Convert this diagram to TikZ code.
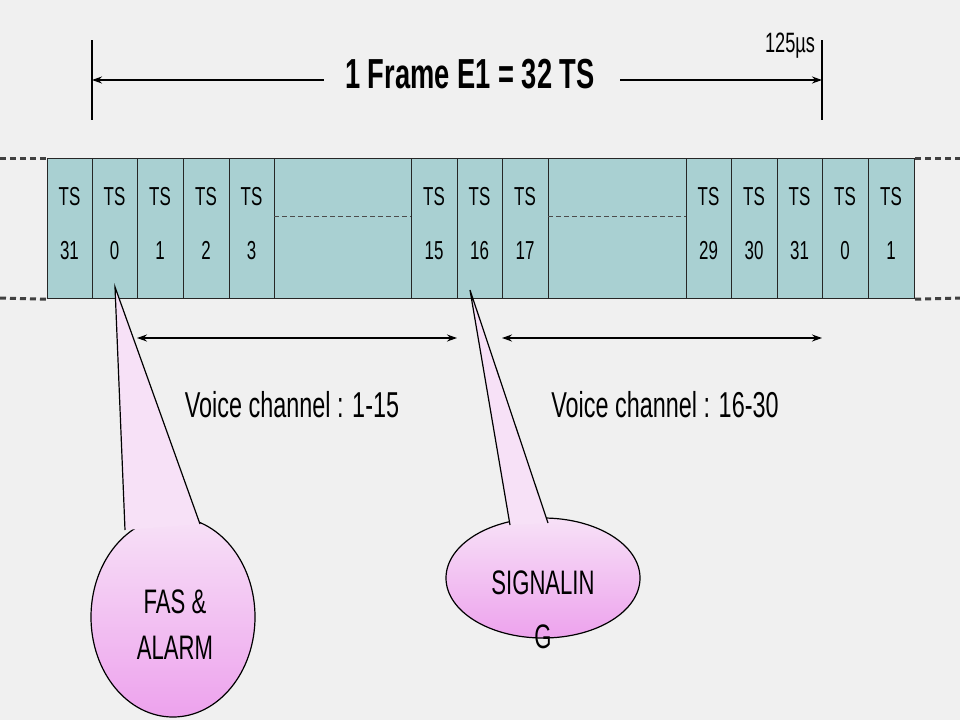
\documentclass[tikz,border=0pt]{standalone}
\usepackage{fontspec}
\setmainfont{Liberation Sans}[FakeStretch=0.65]
\usetikzlibrary{arrows.meta}
\definecolor{cellc}{HTML}{A9D0D2}
\definecolor{pinkc}{HTML}{EBB4EB}
\begin{document}
\begin{tikzpicture}[x=1pt,y=-1pt,
  cell/.style={draw=black!85,line width=1.2pt,fill=cellc,minimum height=140pt,inner sep=0pt,anchor=north west},
  ts/.style={font=\fontsize{26}{28}\selectfont,anchor=base},
  dots/.style={line width=3pt,dash pattern=on 6pt off 4pt,black!75},
  arr/.style={line width=1.3pt,{Stealth[length=10pt,width=7pt]}-{Stealth[length=10pt,width=7pt]}},
  lbl/.style={font=\fontsize{36}{38}\selectfont},
  bub/.style={draw=black,line width=1.2pt,top color=white!60!pinkc,bottom color=pinkc!90!magenta}]
\fill[white!94!black] (0,0) rectangle (960,720);
\useasboundingbox (0,0) rectangle (960,720);
% cells
\foreach \x/\w/\t [count=\i] in {47/45/31,92/45/0,137/46/1,183/46/2,229/45/3,274/137/,411/46/15,457/45/16,502/46/17,548/138/,686/45/29,731/46/30,777/45/31,822/46/0,868/46/1}{
  \node[cell,minimum width=\w pt] (c\i) at (\x,158) {};
  \ifx\t\empty\else
  \node[ts] (t\i) at (\x+\w/2,205) {TS};
  \node[ts] (n\i) at (\x+\w/2,259) {\t};
  \fi
}
\draw[line width=1.5pt,dash pattern=on 5pt off 3pt,black!70] (c6.west) ++(0,-12) -- ++(137,0);
\draw[line width=1.5pt,dash pattern=on 5pt off 3pt,black!70] (c10.west) ++(0,-12) -- ++(138,0);
\coordinate (lt) at (0,158); \coordinate (lb) at (0,298);
\coordinate (rt) at (960,158); \coordinate (rb) at (960,298);
\draw[dots] (lt) -- (c1.north west); \draw[dots] (lb) -- (c1.south west);
\draw[dots] (c15.north east) -- (rt); \draw[dots] (c15.south east) -- (rb);
% top frame arrow
\coordinate (a1) at (92,40); \coordinate (a2) at (92,120);
\coordinate (b1) at (822,40); \coordinate (b2) at (822,120);
\draw[line width=1.3pt] (a1) -- (a2); \draw[line width=1.3pt] (b1) -- (b2);
\node[font=\bfseries\fontsize{42}{44}\selectfont] (title) at (470,74) {1 Frame E1 = 32 TS};
\coordinate (tl) at (92,80); \coordinate (tr) at (822,80);
\draw[line width=1.3pt,-{Stealth[length=10pt,width=7pt]}] (title.west|-tl) ++(-18,0) -- (tl);
\draw[line width=1.3pt,-{Stealth[length=10pt,width=7pt]}] (title.east|-tr) ++(22,0) -- (tr);
\node[font=\fontsize{28}{30}\selectfont] (us) at (790,46) {125µs};
% voice channel arrows
\coordinate (v1) at (137,338); \coordinate (v2) at (457,338);
\coordinate (v3) at (502,338); \coordinate (v4) at (822,338);
\draw[arr] (v1) -- (v2); \draw[arr] (v3) -- (v4);
\node[lbl] (l1) at (292,405) {Voice channel : 1-15};
\node[lbl] (l2) at (665,405) {Voice channel : 16-30};
% FAS callout
\draw[bub] (173,617) ellipse [x radius=82, y radius=100];
\coordinate (p1) at (115,287);
\fill[pinkc!40!white] (p1) -- (200,524) -- (125,530) -- cycle;
\draw[line width=1.2pt] (125,530) -- (p1) -- (200,524);
\node[font=\fontsize{34}{46}\selectfont,align=center] (fas) at (175,625) {FAS \&\\ALARM};
% SIGNALING callout
\draw[bub] (543,578) ellipse [x radius=97, y radius=60];
\coordinate (p2) at (470,290);
\fill[pinkc!40!white] (p2) -- (548,523) -- (510,525) -- cycle;
\draw[line width=1.2pt] (510,525) -- (p2) -- (548,523);
\node[font=\fontsize{34}{54}\selectfont,align=center] (sig) at (543,610) {SIGNALIN\\G};
\end{tikzpicture}
\end{document}
